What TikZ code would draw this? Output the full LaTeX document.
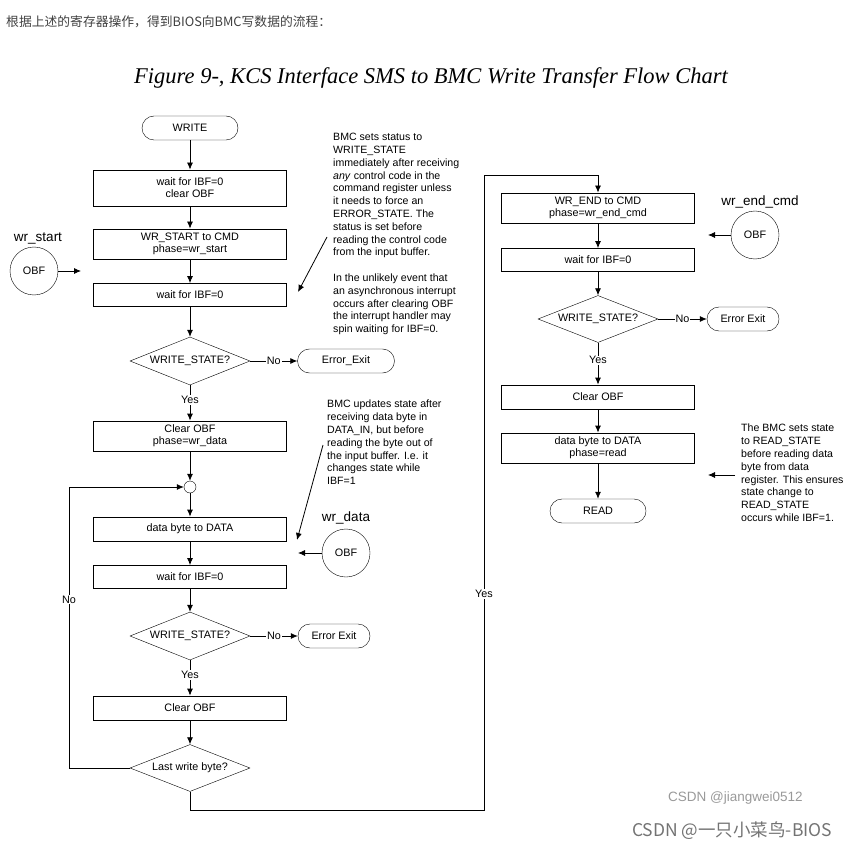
\documentclass[tikz,border=0pt]{standalone}
\usepackage{fontspec}
\setmainfont{Liberation Sans}
\newfontfamily\cjk{Noto Sans CJK SC}
\newfontfamily\tserif{Liberation Serif}
\usetikzlibrary{shapes.geometric,arrows.meta}
\begin{document}
\begin{tikzpicture}[x=1pt,y=-1pt,
  every node/.style={font=\fontsize{10.8}{12}\selectfont, inner sep=0pt},
  box/.style={draw, thick, minimum width=193, align=center},
  term/.style={draw, rounded rectangle, align=center},
  dia/.style={draw, diamond, aspect=2.5, minimum width=120, minimum height=48, inner sep=0pt},
  ar/.style={-{Latex[length=7pt,width=6pt]}, thick},
  ln/.style={thick},
  note/.style={anchor=north west, align=left, font=\fontsize{10.6}{12.8}\selectfont},
  obf/.style={draw, circle, minimum size=48},
  lbl/.style={font=\fontsize{13.5}{15}\selectfont}]
\useasboundingbox (0,0) rectangle (867,850);
\tikzset{rounded rectangle/.style={rounded corners=12pt, minimum height=24}}
\node[anchor=west, text=black!75, font=\cjk\fontsize{12.8}{14}\selectfont] (hdr) at (6,22) {根据上述的寄存器操作，得到BIOS向BMC写数据的流程：};
\node[font=\tserif\itshape\fontsize{22.5}{26}\selectfont] (title) at (431,78) {Figure 9-, KCS Interface SMS to BMC Write Transfer Flow Chart};

% left column
\node[term, minimum width=96] (write) at (190,128) {WRITE};
\node[box, minimum height=36] (b1) at (190,188) {wait for IBF=0\\clear OBF};
\node[box, minimum height=30] (b2) at (190,244) {WR\_START to CMD\\phase=wr\_start};
\node[box, minimum height=23] (b3) at (190,295) {wait for IBF=0};
\node[dia] (d1) at (190,361) {WRITE\_STATE?};
\node[term, minimum width=97] (e1) at (346,361) {Error\_Exit};
\node[box, minimum height=30] (b4) at (190,436) {Clear OBF\\phase=wr\_data};
\node[circle, draw, minimum size=12] (j) at (190,487) {};
\node[box, minimum height=24] (b5) at (190,529) {data byte to DATA};
\node[box, minimum height=23] (b6) at (190,577) {wait for IBF=0};
\node[dia] (d2) at (190,636) {WRITE\_STATE?};
\node[term, minimum width=72] (e2) at (334,636) {Error Exit};
\node[box, minimum height=24] (b7) at (190,708) {Clear OBF};
\node[dia, minimum height=47] (d3) at (190,768) {Last write byte?};

\draw[ar] (write) -- (b1);
\draw[ar] (b1) -- (b2);
\draw[ar] (b2) -- (b3);
\draw[ar] (b3) -- (d1);
\draw[ar] (d1) -- node[fill=white, inner sep=1pt] {No} (e1);
\draw[ar] (d1) -- node[fill=white, inner sep=1pt, pos=0.42] {Yes} (b4);
\draw[ar] (b4) -- (j);
\draw[ar] (j) -- (b5);
\draw[ar] (b5) -- (b6);
\draw[ar] (b6) -- (d2);
\draw[ar] (d2) -- node[fill=white, inner sep=1pt] {No} (e2);
\draw[ar] (d2) -- node[fill=white, inner sep=1pt, pos=0.42] {Yes} (b7);
\draw[ar] (b7) -- (d3);
\draw[ar] (d3.west) -- (69,768) -- node[fill=white, inner sep=1pt, pos=0.6] {No} (69,487) -- (j);

% right column
\node[box, minimum height=30] (r1) at (598,208) {WR\_END to CMD\\phase=wr\_end\_cmd};
\node[box, minimum height=23] (r2) at (598,260) {wait for IBF=0};
\node[dia, minimum height=47] (rd) at (598,319) {WRITE\_STATE?};
\node[term, minimum width=72] (e3) at (743,319) {Error Exit};
\node[box, minimum height=24] (r3) at (598,397) {Clear OBF};
\node[box, minimum height=30] (r4) at (598,448) {data byte to DATA\\phase=read};
\node[term, minimum width=96] (read) at (598,511) {READ};

\draw[ar] (d3.south) -- (190,810) -- (484,810) -- node[fill=white, inner sep=1pt, pos=0.34] {Yes} (484,175) -- (598,175) -- (r1);
\draw[ar] (r1) -- (r2);
\draw[ar] (r2) -- (rd);
\draw[ar] (rd) -- node[fill=white, inner sep=1pt] {No} (e3);
\draw[ar] (rd) -- node[fill=white, inner sep=1pt, pos=0.42] {Yes} (r3);
\draw[ar] (r3) -- (r4);
\draw[ar] (r4) -- (read);

% OBF circles
\node[obf] (o1) at (34,271) {OBF};
\node[lbl] (l1) at (38,238) {wr\_start};
\coordinate (o1t) at (81,271);
\draw[ar] (o1) -- (o1t);
\node[obf] (o2) at (346,553) {OBF};
\node[lbl] (l2) at (346,518) {wr\_data};
\coordinate (o2t) at (298,553);
\draw[ar] (o2) -- (o2t);
\node[obf] (o3) at (755,235) {OBF};
\node[lbl] (l3) at (760,202) {wr\_end\_cmd};
\coordinate (o3t) at (708,235);
\draw[ar] (o3) -- (o3t);

% notes
\node[note] (n1) at (333,133) {BMC sets status to\\WRITE\_STATE\\immediately after receiving\\\textit{any} control code in the\\command register unless\\it needs to force an\\ERROR\_STATE. The\\status is set before\\reading the control code\\from the input buffer.\\[12.8pt]In the unlikely event that\\an asynchronous interrupt\\occurs after clearing OBF\\the interrupt handler may\\spin waiting for IBF=0.};
\coordinate (n1a) at (327,237); \coordinate (n1b) at (298,292);
\draw[ar] (n1a) -- (n1b);
\node[note] (n2) at (327,400) {BMC updates state after\\receiving data byte in\\DATA\_IN, but before\\reading the byte out of\\the input buffer. I.e. it\\changes state while\\IBF=1};
\coordinate (n2a) at (323,445); \coordinate (n2b) at (297,540);
\draw[ar] (n2a) -- (n2b);
\node[note] (n3) at (741,424) {The BMC sets state\\to READ\_STATE\\before reading data\\byte from data\\register. This ensures\\state change to\\READ\_STATE\\occurs while IBF=1.};
\coordinate (n3a) at (735,475); \coordinate (n3b) at (708,475);
\draw[ar] (n3a) -- (n3b);

% watermarks
\node[anchor=west, text=black!40, font=\fontsize{13.5}{15}\selectfont] (wm1) at (668,798) {CSDN @jiangwei0512};
\node[anchor=west, text=black!55, font=\cjk\fontsize{17.5}{19}\selectfont] (wm2) at (632,831) {CSDN @一只小菜鸟-BIOS};
\end{tikzpicture}
\end{document}
